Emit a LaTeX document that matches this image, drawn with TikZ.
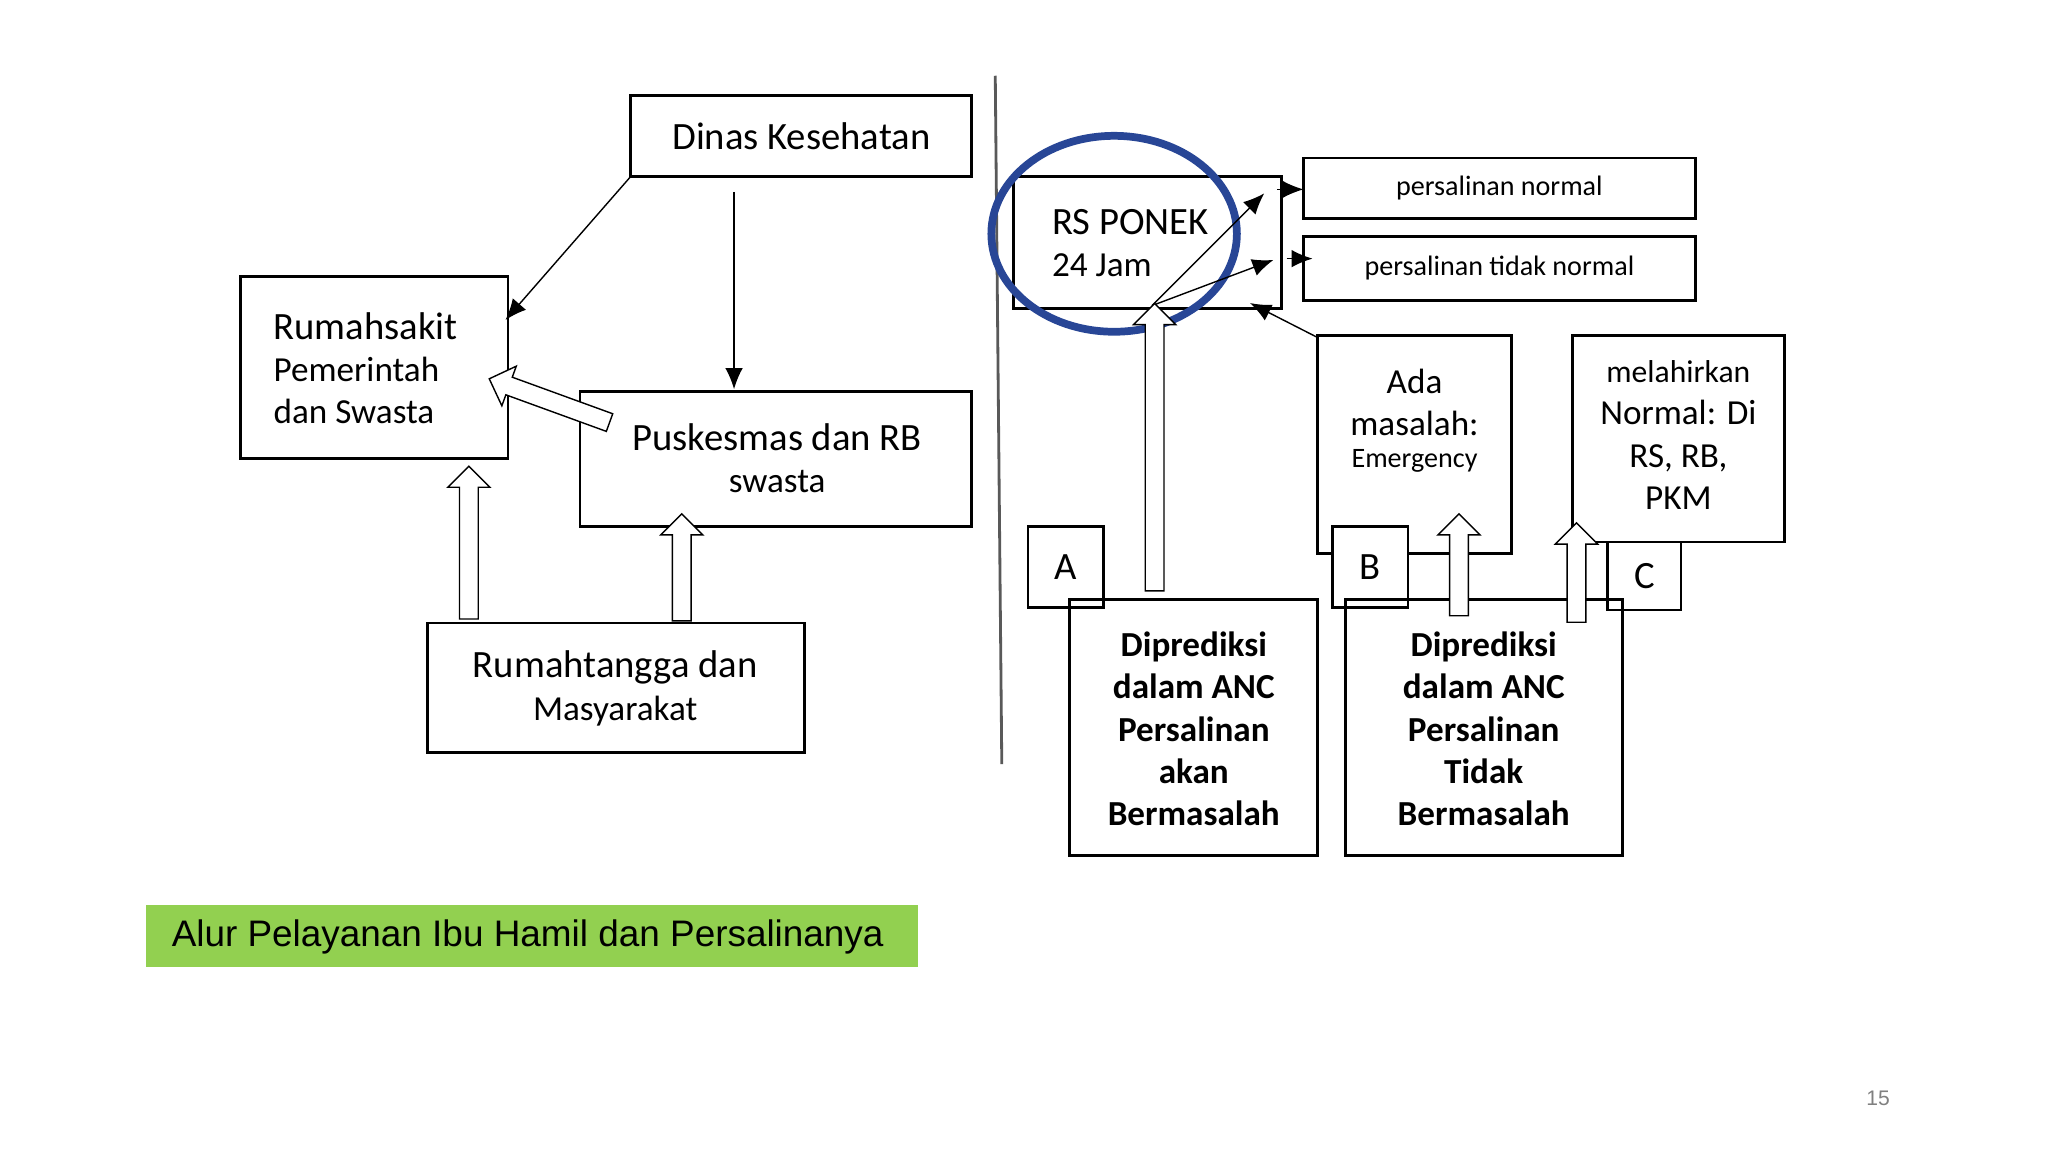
\documentclass[tikz,border=0pt]{standalone}
\usepackage{fontspec}
\setmainfont{Carlito}
\newfontfamily\capfont{Liberation Sans}
\usetikzlibrary{shapes.arrows,arrows.meta}
\definecolor{capgreen}{RGB}{146,208,80}
\definecolor{ring}{RGB}{40,70,150}
\begin{document}
\begin{tikzpicture}[x=0.013061cm,y=-0.013061cm,
 bx/.style={draw,thick,inner sep=0pt},
 ar/.style={-{Latex[length=6pt,width=5pt]},thin},
 hol/.style={single arrow,draw,fill=white,inner sep=2.2pt,single arrow head extend=3pt,minimum width=12pt,thin}]
\useasboundingbox (0,0) rectangle (1568,882);
% left
\draw[bx] (483,73) rectangle (744,135) node[midway] (dk) {\fontsize{11}{13}\selectfont Dinas Kesehatan};
\draw[bx] (184,212) rectangle (389,351);
\node[align=left,anchor=west] (rs) at (200,282) {\fontsize{11}{15.5}\selectfont Rumahsakit\\Pemerintah\\dan Swasta};
\draw[bx] (444,300) rectangle (744,403);
\node[align=center] (pk) at (595,351) {\fontsize{11}{15.5}\selectfont Puskesmas dan RB\\swasta};
\draw[bx] (327,477) rectangle (616,576);
\node[align=center] (rt) at (471,527) {\fontsize{11}{15.5}\selectfont Rumahtangga dan\\Masyarakat};
\draw[gray!70!black,thick] (762,58) -- (767,585);
\coordinate (d1) at (483,135); \coordinate (r1) at (387,245);
\draw[ar] (d1) -- (r1);
\coordinate (d2) at (562,147); \coordinate (p2) at (562,298);
\draw[ar] (d2) -- (p2);
\node[hol,minimum height={98*0.013061cm},rotate=160] (h1) at (424,308) {};
\node[hol,minimum height={117*0.013061cm},rotate=90] (h2) at (359,419) {};
\node[hol,minimum height={82*0.013061cm},rotate=90] (h3) at (522,438) {};
% right
\draw[bx] (776,135) rectangle (981,236);
\node[align=left,anchor=west] (po) at (796,186) {\fontsize{11}{15.5}\selectfont RS PONEK\\24 Jam};
\draw[ring,line width=2.2pt] (853,179) ellipse (94 and 75);
\draw[bx] (998,121) rectangle (1298,167) node[midway] (pn) {\fontsize{8}{10}\selectfont persalinan normal};
\draw[bx] (998,181) rectangle (1298,230) node[midway] (ptn) {\fontsize{8}{10}\selectfont persalinan tidak normal};
\coordinate (o) at (882,234); \coordinate (t1) at (968,148); \coordinate (t2) at (975,199);
\draw[ar] (o) -- (t1); \draw[ar] (o) -- (t2);
\coordinate (s1) at (978,145); \coordinate (e1) at (998,145);
\coordinate (s2) at (985,198); \coordinate (e2) at (1005,198);
\draw[ar] (s1) -- (e1); \draw[ar] (s2) -- (e2);
\coordinate (m1) at (1008,258); \coordinate (m2) at (957,232);
\draw[ar] (m1) -- (m2);
\draw[bx] (1009,257) rectangle (1157,424);
\node[align=center] (am) at (1083,322) {\fontsize{10}{14}\selectfont Ada\\masalah:\\[-3pt]\fontsize{8}{11}\selectfont Emergency};
\draw[bx] (1204,257) rectangle (1366,415);
\node[align=center] (ml) at (1285,333) {\fontsize{9}{12.5}\selectfont melahirkan\\Normal: Di\\RS, RB,\\PKM};
\draw[bx] (787,403) rectangle (845,465) node[midway] (A) {\fontsize{11}{13}\selectfont A};
\draw[bx,fill=white] (1020,403) rectangle (1078,465) node[midway] (B) {\fontsize{11}{13}\selectfont B};
\draw[bx] (1231,415) rectangle (1287,467) node[midway] (C) {\fontsize{11}{13}\selectfont C};
\draw[bx] (819,459) rectangle (1009,655);
\node[align=center,font=\bfseries] (d1t) at (914,558) {\fontsize{10}{13}\selectfont Diprediksi\\dalam ANC\\Persalinan\\akan\\Bermasalah};
\draw[bx] (1030,459) rectangle (1242,655);
\node[hol,minimum height={220*0.013061cm},rotate=90] (h4) at (884,346) {};
\node[hol,minimum height={78*0.013061cm},rotate=90] (h5) at (1117,436) {};
\node[hol,minimum height={76*0.013061cm},rotate=90] (h6) at (1207,442) {};
\node[align=center,font=\bfseries] (d2t) at (1136,558) {\fontsize{10}{13}\selectfont Diprediksi\\dalam ANC\\Persalinan\\Tidak\\Bermasalah};
% caption
\fill[capgreen] (112,693) rectangle (703,740);
\node[anchor=west] (cp) at (122,717) {\capfont\fontsize{10.5}{12}\selectfont Alur Pelayanan Ibu Hamil dan Persalinanya};
\node (pg) at (1438,841) {\capfont\fontsize{6}{7}\selectfont\color{gray}15};
\end{tikzpicture}
\end{document}
